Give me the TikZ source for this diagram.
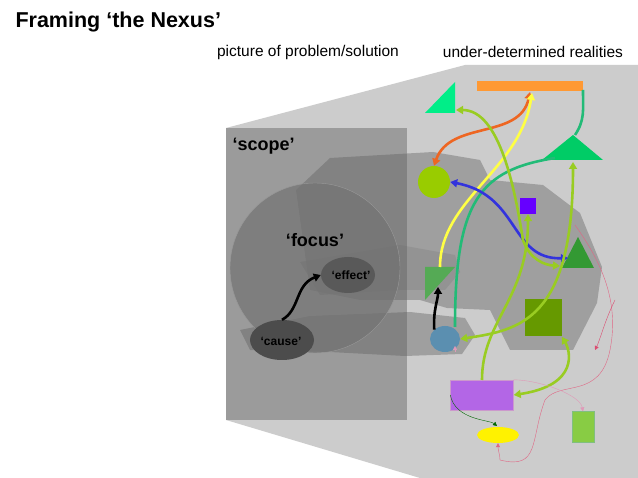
\documentclass[tikz,border=0pt]{standalone}
\usepackage{fontspec}
\setmainfont{Liberation Sans}
\usetikzlibrary{shapes.geometric,arrows.meta}
\definecolor{limeA}{HTML}{99CC22}
\definecolor{tealL}{HTML}{22BB77}
\definecolor{orA}{HTML}{EE6622}
\definecolor{barC}{HTML}{FF9933}
\definecolor{tealT}{HTML}{00EE88}
\definecolor{bigTC}{HTML}{00CC66}
\definecolor{circC}{HTML}{99CC00}
\definecolor{psqC}{HTML}{6600FF}
\definecolor{dgTC}{HTML}{339933}
\definecolor{gTC}{HTML}{55AA55}
\definecolor{bellC}{HTML}{5B8FB0}
\definecolor{osqC}{HTML}{669900}
\definecolor{prectC}{HTML}{B366E6}
\definecolor{lrectC}{HTML}{88CC44}
\definecolor{blueC}{HTML}{3333DD}
\definecolor{yelC}{HTML}{FFFF44}
\begin{document}
\begin{tikzpicture}[x=1pt,y=-1pt,
  lbl/.style={font=\fontsize{15.5}{18}\selectfont},
  bl/.style={font=\bfseries\fontsize{18}{20}\selectfont},
  arr/.style={line width=2.6pt,-{Triangle[length=7pt,width=8pt]}},
  darr/.style={line width=2.6pt,{Triangle[length=7pt,width=8pt]}-{Triangle[length=7pt,width=8pt]}},
  thin/.style={line width=0.4pt,-{Triangle[length=4pt,width=4pt]}},
  box/.style={draw=none,inner sep=0pt,rectangle}]
\useasboundingbox (0,0) rectangle (638,478);
\fill[white] (0,0) rectangle (638,478);
% background trapezoid
\fill[gray!40] (226,128) -- (465,65) -- (638,65) -- (638,478) -- (420,478) -- (226,420) -- cycle;
% dark blobs
\fill[black!45,opacity=0.7] (296,190) -- (330,158) -- (433,152) -- (480,160) -- (490,180) -- (543,185) -- (580,213) -- (602,267) -- (597,303) -- (573,350) -- (510,350) -- (490,310) -- (447,308) -- (420,300) -- (360,300) -- (310,290) -- cycle;
\fill[black!45,opacity=0.7] (240,330) -- (310,316) -- (410,312) -- (465,318) -- (475,335) -- (462,354) -- (405,356) -- (330,352) -- (250,350) -- cycle;
\fill[black!45,opacity=0.6] (300,262) -- (400,245) -- (455,255) -- (460,272) -- (445,290) -- (400,290) -- (320,295) -- cycle;
% scope
\node[box,fill=gray!75!black,fill opacity=0.45,minimum width=181,minimum height=292,anchor=north west] (scope) at (226,128) {};
\node[circle,fill=black!55,fill opacity=0.7,draw=black!40,minimum size=170,inner sep=0] (focus) at (315,268) {};
\node[ellipse,fill=black!65,minimum width=54,minimum height=36,inner sep=0] (effect) at (348,275) {};
\node[ellipse,fill=black!70,minimum width=64,minimum height=40,inner sep=0] (cause) at (282,340) {};
\node[bl,anchor=west] (tscope) at (229,146) {‘scope’};
\node[bl] (tfocus) at (315,240) {‘focus’};
\node[font=\bfseries\fontsize{12}{14}\selectfont] (teffect) at (351,275) {‘effect’};
\node[font=\bfseries\fontsize{12}{14}\selectfont] (tcause) at (281,341) {‘cause’};
\draw[arr,black] (cause.north) .. controls (300,310) and (295,285) .. (effect.west);
% titles
\node[anchor=west,font=\bfseries\fontsize{21.5}{24}\selectfont] (title) at (12,22) {Framing ‘the Nexus’};
\node[lbl] (t1) at (308,52) {picture of problem/solution};
\node[lbl] (t2) at (533,52) {under-determined realities};
% shapes
\coordinate (tealT) at (448,106);
\fill[tealT] (425,113) -- (455,113) -- (455,82) -- cycle;
\node[box,fill=barC,minimum width=106,minimum height=10] (bar) at (530,86) {};
\coordinate (bigT) at (573,155);
\fill[bigTC] (542,160) -- (603,160) -- (573,135) -- cycle;
\node[circle,fill=circC,minimum size=32,inner sep=0] (circ) at (434,182) {};
\node[box,fill=psqC,minimum size=16] (psq) at (528,206) {};
\coordinate (dgT) at (578,258);
\fill[dgTC] (562,268) -- (594,268) -- (578,237) -- cycle;
\coordinate (gT) at (435,278);
\fill[gTC] (425,267) -- (455,267) -- (425,300) -- cycle;
\node[ellipse,fill=bellC,minimum width=30,minimum height=26,inner sep=0] (bell) at (445,339) {};
\node[box,fill=osqC,minimum size=37] (osq) at (543,318) {};
\node[box,fill=prectC,draw=violet!40,minimum width=63,minimum height=30] (prect) at (482,395) {};
\node[ellipse,fill=yellow,minimum width=42,minimum height=16,inner sep=0] (yell) at (498,435) {};
\node[box,fill=lrectC,draw=green!50!black!50,minimum width=22,minimum height=31] (lrect) at (583,427) {};
% connectors
\draw[darr,orA] (530,92) .. controls (520,140) and (450,120) .. (circ.north);
\draw[arr,yelC] (440,267) .. controls (440,200) and (520,170) .. (532,93);
\draw[line width=2.6pt,tealL] (455,327) .. controls (455,200) and (480,170) .. (555,158);
\draw[line width=2.6pt,tealL] (575,135) .. controls (585,120) and (583,110) .. (583,90);
\draw[darr,blueC] (circ.east) .. controls (520,195) and (510,260) .. (568,258);
\draw[darr,limeA] (456,110) .. controls (500,110) and (515,190) .. (523,240) .. controls (530,260) and (545,265) .. (560,266);
\draw[arr,limeA] (482,380) .. controls (482,320) and (528,300) .. (psq.south);
\draw[darr,limeA] (573,162) .. controls (573,320) and (520,330) .. (bell.east);
\draw[darr,limeA] (prect.east) .. controls (580,385) and (570,350) .. (osq.south east);
\draw[arr,black] (bell.north west) .. controls (433,310) and (438,300) .. (438,287);
\draw[thin,red!60!violet!60!white] (575,225) .. controls (600,260) and (620,300) .. (610,350) .. controls (600,400) and (560,380) .. (545,400) .. controls (530,440) and (540,470) .. (500,460) .. controls (500,455) and (498,450) .. (yell.south);
\draw[thin,red!60!violet!70!white] (615,300) .. controls (605,320) and (600,340) .. (595,350);
\draw[thin,red!40!violet!40!white] (prect.north east) .. controls (540,380) and (580,395) .. (lrect.north);
\draw[thin,green!40!black] (prect.west) .. controls (455,420) and (490,420) .. (497,426);
\draw[thin,red!40!violet!40!white] (455,352) -- (455,346);
\end{tikzpicture}
\end{document}
